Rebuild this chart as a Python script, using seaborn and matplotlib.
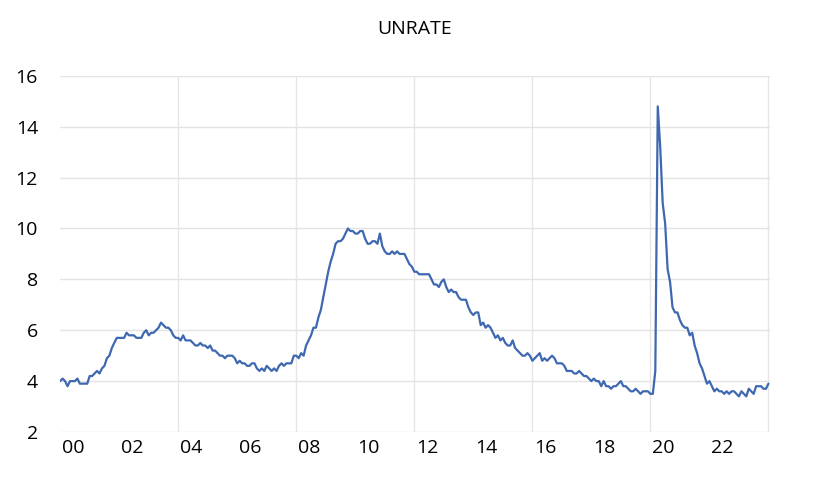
import numpy as np
import pandas as pd
import seaborn as sns
import matplotlib
matplotlib.use("Agg")
import matplotlib.pyplot as plt

unrate = [
4.0,4.1,4.0,3.8,4.0,4.0,4.0,4.1,3.9,3.9,3.9,3.9,
4.2,4.2,4.3,4.4,4.3,4.5,4.6,4.9,5.0,5.3,5.5,5.7,
5.7,5.7,5.7,5.9,5.8,5.8,5.8,5.7,5.7,5.7,5.9,6.0,
5.8,5.9,5.9,6.0,6.1,6.3,6.2,6.1,6.1,6.0,5.8,5.7,
5.7,5.6,5.8,5.6,5.6,5.6,5.5,5.4,5.4,5.5,5.4,5.4,
5.3,5.4,5.2,5.2,5.1,5.0,5.0,4.9,5.0,5.0,5.0,4.9,
4.7,4.8,4.7,4.7,4.6,4.6,4.7,4.7,4.5,4.4,4.5,4.4,
4.6,4.5,4.4,4.5,4.4,4.6,4.7,4.6,4.7,4.7,4.7,5.0,
5.0,4.9,5.1,5.0,5.4,5.6,5.8,6.1,6.1,6.5,6.8,7.3,
7.8,8.3,8.7,9.0,9.4,9.5,9.5,9.6,9.8,10.0,9.9,9.9,
9.8,9.8,9.9,9.9,9.6,9.4,9.4,9.5,9.5,9.4,9.8,9.3,
9.1,9.0,9.0,9.1,9.0,9.1,9.0,9.0,9.0,8.8,8.6,8.5,
8.3,8.3,8.2,8.2,8.2,8.2,8.2,8.0,7.8,7.8,7.7,7.9,
8.0,7.7,7.5,7.6,7.5,7.5,7.3,7.2,7.2,7.2,6.9,6.7,
6.6,6.7,6.7,6.2,6.3,6.1,6.2,6.1,5.9,5.7,5.8,5.6,
5.7,5.5,5.4,5.4,5.6,5.3,5.2,5.1,5.0,5.0,5.1,5.0,
4.8,4.9,5.0,5.1,4.8,4.9,4.8,4.9,5.0,4.9,4.7,4.7,
4.7,4.6,4.4,4.4,4.4,4.3,4.3,4.4,4.3,4.2,4.2,4.1,
4.0,4.1,4.0,4.0,3.8,4.0,3.8,3.8,3.7,3.8,3.8,3.9,
4.0,3.8,3.8,3.7,3.6,3.6,3.7,3.6,3.5,3.6,3.6,3.6,
3.5,3.5,4.4,14.8,13.2,11.0,10.2,8.4,7.9,6.9,6.7,6.7,
6.4,6.2,6.1,6.1,5.8,5.9,5.4,5.1,4.7,4.5,4.2,3.9,
4.0,3.8,3.6,3.7,3.6,3.6,3.5,3.6,3.5,3.6,3.6,3.5,
3.4,3.6,3.5,3.4,3.7,3.6,3.5,3.8,3.8,3.8,3.7,3.7,
3.9]
start_year = 2000
tick_labels = ["00","02","04","06","08","10","12","14","16","18","20","22"]
y_ticks = [2, 4, 6, 8, 10, 12, 14, 16]

df = pd.DataFrame({"t": start_year + np.arange(len(unrate)) / 12.0, "UNRATE": unrate})

sns.set_theme(style="white")
plt.rcParams["font.family"] = ["Open Sans", "DejaVu Sans"]
fig = plt.figure(figsize=(8.13, 4.8), dpi=100)
ax = fig.add_axes([0.074, 0.1, 0.873, 0.742])
sns.lineplot(data=df, x="t", y="UNRATE", ax=ax, color="#3E68B0", linewidth=1.6)

ax.set_xlim(2000, 2024.05)
ax.set_ylim(2, 16)
ax.set_yticks(y_ticks)
for g in range(2004, 2025, 4):
    ax.axvline(g, color="#E6E6E6", lw=1, zorder=0)
for yv in y_ticks:
    ax.axhline(yv, color="#E3E3E3", lw=1, zorder=0)
ax.set_xticks([2000.45 + 2*i for i in range(len(tick_labels))])
ax.set_xticklabels(tick_labels)
ax.tick_params(axis="both", length=0, labelsize=14, colors="black", pad=5)
ax.tick_params(axis="y", pad=16)
for s in ax.spines.values():
    s.set_visible(False)
ax.set_xlabel("")
ax.set_ylabel("")
ax.set_title("UNRATE", fontsize=14, pad=30, color="black")
fig.savefig("out.png", dpi=100)
